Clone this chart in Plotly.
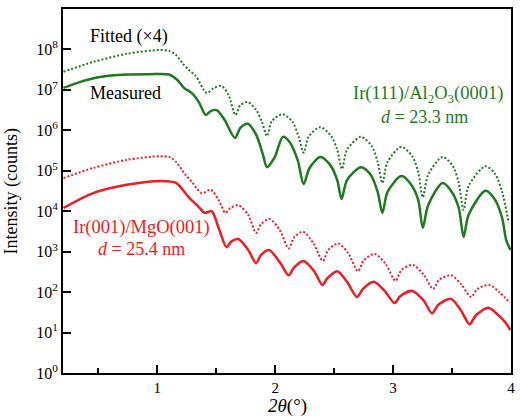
import plotly.graph_objects as go

# ---- data ----
gm_x = [0.204, 0.346, 0.514, 0.740, 0.933, 1.100, 1.168, 1.226, 1.293, 1.352, 1.411, 1.453, 1.503, 1.570,
        1.658, 1.704, 1.767, 1.838, 1.897, 1.930, 1.997, 2.023, 2.065, 2.123, 2.190, 2.241, 2.291, 2.383,
        2.467, 2.526, 2.563, 2.609, 2.727, 2.811, 2.869, 2.909, 2.953, 3.070, 3.154, 3.213, 3.252, 3.297,
        3.420, 3.498, 3.557, 3.598, 3.640, 3.783, 3.866, 3.925, 3.959, 3.995]
gm_y = [1.12e7, 1.58e7, 2.09e7, 2.40e7, 2.45e7, 2.40e7, 1.78e7, 1.12e7, 8.3e6, 5.0e6, 2.4e6, 3.0e6, 3.16e6, 1.82e6,
        6.5e5, 1.15e6, 1.45e6, 7.8e5, 2.45e5, 1.23e5, 2.2e5, 3.6e5, 6.9e5, 5.1e5, 1.86e5, 4.7e4, 1.17e5, 2.2e5,
        1.38e5, 5.9e4, 2.0e4, 5.9e4, 1.23e5, 7.9e4, 3.0e4, 9.1e3, 3.0e4, 7.4e4, 4.5e4, 1.9e4, 3.9e3, 1.4e4,
        5.0e4, 3.0e4, 1.2e4, 2.3e3, 8.1e3, 3.2e4, 1.9e4, 6.8e3, 1.95e3, 1.1e3]

gf_x = [0.204, 0.455, 0.740, 1.017, 1.100, 1.159, 1.218, 1.268, 1.327, 1.419, 1.478, 1.545, 1.604, 1.662,
        1.704, 1.767, 1.838, 1.888, 1.930, 1.972, 2.065, 2.148, 2.199, 2.241, 2.283, 2.383, 2.475, 2.526,
        2.567, 2.609, 2.727, 2.819, 2.869, 2.909, 2.953, 3.070, 3.162, 3.213, 3.252, 3.297, 3.420, 3.507,
        3.557, 3.598, 3.640, 3.783, 3.866, 3.925, 3.980]
gf_y = [2.8e7, 4.9e7, 7.8e7, 9.7e7, 9.2e7, 7.3e7, 4.4e7, 3.1e7, 2.2e7, 8.4e6, 1.1e7, 1.25e7, 7.5e6, 2.4e6,
        4.2e6, 5.0e6, 3.2e6, 1.6e6, 7.2e5, 1.7e6, 2.5e6, 1.6e6, 6.9e5, 2.8e5, 6.9e5, 1.2e6, 7.2e5, 3.3e5,
        1.1e5, 3.3e5, 6.9e5, 4.1e5, 1.66e5, 5.0e4, 1.66e5, 3.9e5, 2.3e5, 9.3e4, 2.2e4, 7.9e4, 2.2e5, 1.3e5,
        5.0e4, 1.07e4, 4.2e4, 1.3e5, 8.3e4, 3.0e4, 5.1e3]

rm_x = [0.204, 0.455, 0.740, 1.042, 1.159, 1.268, 1.352, 1.402, 1.461, 1.520, 1.587, 1.629, 1.687, 1.771,
        1.838, 1.880, 1.947, 2.039, 2.115, 2.157, 2.241, 2.333, 2.400, 2.442, 2.526, 2.609, 2.693, 2.744,
        2.836, 2.928, 3.012, 3.062, 3.163, 3.255, 3.330, 3.381, 3.490, 3.573, 3.649, 3.699, 3.808, 3.892,
        3.951, 3.995]
rm_y = [1.2e4, 2.8e4, 4.5e4, 5.6e4, 5.0e4, 2.2e4, 1.27e4, 9.1e3, 1.0e4, 3.9e3, 1.3e3, 1.8e3, 2.05e3, 1.1e3,
        5.2e2, 8.3e2, 1.1e3, 5.5e2, 2.6e2, 4.0e2, 5.9e2, 3.2e2, 1.5e2, 2.2e2, 3.3e2, 1.8e2, 76, 1.2e2,
        1.8e2, 1.07e2, 54, 80, 1.07e2, 64, 30, 48, 68, 36, 16, 26, 41, 27,
        18, 11.5]

rf_x = [0.204, 0.455, 0.740, 1.017, 1.101, 1.159, 1.235, 1.293, 1.377, 1.453, 1.520, 1.578, 1.620, 1.687,
        1.771, 1.838, 1.880, 1.951, 2.039, 2.115, 2.157, 2.236, 2.324, 2.404, 2.450, 2.534, 2.618, 2.702,
        2.752, 2.844, 2.936, 3.020, 3.070, 3.167, 3.263, 3.339, 3.389, 3.494, 3.582, 3.661, 3.716, 3.816,
        3.900, 3.992]
rf_y = [6.6e4, 1.17e5, 1.86e5, 2.3e5, 2.2e5, 1.66e5, 8.3e4, 5.3e4, 2.8e4, 3.4e4, 1.9e4, 9.1e3, 1.2e4, 1.4e4,
        8.1e3, 2.9e3, 4.8e3, 6.4e3, 3.4e3, 1.2e3, 2.2e3, 3.1e3, 1.6e3, 5.9e2, 1.1e3, 1.6e3, 9.3e2, 3.3e2,
        6.2e2, 8.8e2, 5.0e2, 1.9e2, 3.5e2, 4.7e2, 2.6e2, 1.2e2, 2.0e2, 2.6e2, 1.5e2, 76, 1.2e2, 1.5e2,
        1.0e2, 54]

y_tick_vals = [1, 10, 100, 1e3, 1e4, 1e5, 1e6, 1e7, 1e8, 1e9]
y_tick_text = ["10<sup>%d</sup>" % i for i in range(10)]
x_tick_vals = [1, 2, 3, 4]
x_tick_text = ["1", "2", "3", "4"]

GREEN = "#1f7a1f"
RED = "#ee1c24"
FONT = "Liberation Serif"

fig = go.Figure()
fig.add_trace(go.Scatter(x=gf_x, y=gf_y, mode="lines",
                         line=dict(color=GREEN, width=2, dash="2px,2px", shape="spline", smoothing=0.8)))
fig.add_trace(go.Scatter(x=gm_x, y=gm_y, mode="lines",
                         line=dict(color=GREEN, width=2.5, shape="spline", smoothing=0.8)))
fig.add_trace(go.Scatter(x=rf_x, y=rf_y, mode="lines",
                         line=dict(color=RED, width=2, dash="2px,2px", shape="spline", smoothing=0.8)))
fig.add_trace(go.Scatter(x=rm_x, y=rm_y, mode="lines",
                         line=dict(color=RED, width=2.5, shape="spline", smoothing=0.8)))

axis_common = dict(showline=True, linecolor="black", linewidth=2, mirror=True,
                   ticks="inside", tickcolor="black", tickwidth=2, ticklen=8,
                   showgrid=False, zeroline=False)

fig.update_xaxes(range=[0.2, 4.0], tickvals=x_tick_vals, ticktext=x_tick_text,
                 tickfont=dict(family=FONT, size=15, color="black"),
                 minor=dict(tickvals=[0.5, 1.5, 2.5, 3.5], ticks="inside", ticklen=5,
                            tickwidth=2, tickcolor="black"),
                 **axis_common)
fig.update_yaxes(type="log", range=[0, 9], tickvals=y_tick_vals, ticktext=y_tick_text,
                 tickfont=dict(family=FONT, size=16, color="black"),
                 **axis_common)

ann = []
def add(text, x, y, color, size=18, xanchor="left", **kw):
    ann.append(dict(text=text, x=x, y=y, xref="x", yref="y", showarrow=False,
                    xanchor=xanchor, yanchor="middle",
                    font=dict(family=FONT, size=size, color=color), **kw))

add("Fitted (×4)", 0.41, 8.33, "black")
add("Measured", 0.41, 6.92, "black")
add("Ir(111)/Al<sub>2</sub>O<sub>3</sub>(0001)", 3.30, 6.89, GREEN, size=18.5, xanchor="center")
add("<i>d</i> = 23.3 nm", 3.27, 6.33, GREEN, xanchor="center")
add("Ir(001)/MgO(001)", 0.866, 3.61, RED, size=18.5, xanchor="center")
add("<i>d</i> = 25.4 nm", 0.866, 3.07, RED, xanchor="center")

ann.append(dict(text="Intensity (counts)", x=-0.115, y=0.5, xref="paper", yref="paper",
                showarrow=False, textangle=-90, xanchor="center", yanchor="middle",
                font=dict(family=FONT, size=18, color="black")))
ann.append(dict(text="<i>2θ</i>(°)", x=0.5, y=-0.092, xref="paper", yref="paper",
                showarrow=False, xanchor="center", yanchor="middle",
                font=dict(family=FONT, size=19, color="black")))

fig.update_layout(width=520, height=417, margin=dict(l=63, r=5, t=9, b=44),
                  paper_bgcolor="white", plot_bgcolor="white", showlegend=False,
                  annotations=ann)

fig.write_html("out.html")
